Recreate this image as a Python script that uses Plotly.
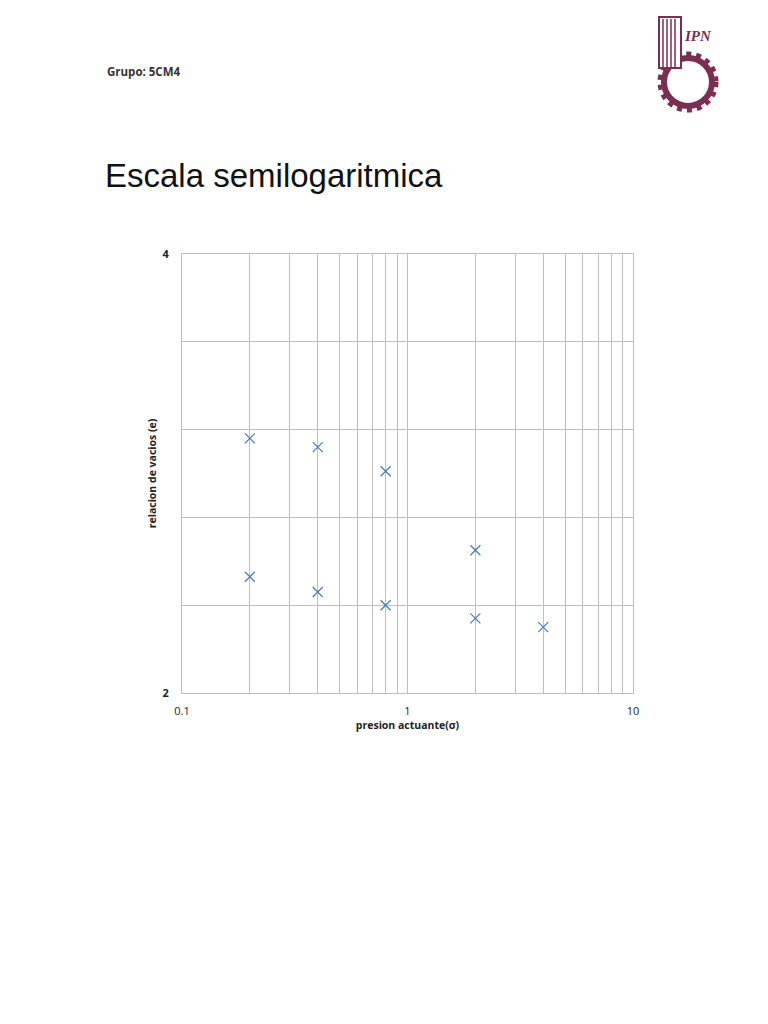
import plotly.graph_objects as go

# ---- data ----
presion = [0.2, 0.4, 0.8, 2, 0.2, 0.4, 0.8, 2, 4]
relacion_vacios = [3.16, 3.12, 3.01, 2.65, 2.53, 2.46, 2.40, 2.34, 2.30]

x_tick_vals = [0.1, 0.2, 0.3, 0.4, 0.5, 0.6, 0.7, 0.8, 0.9,
               1, 2, 3, 4, 5, 6, 7, 8, 9, 10]
x_tick_text = ["0.1", "", "", "", "", "", "", "", "",
               "1", "", "", "", "", "", "", "", "", "10"]
y_tick_vals = [2, 2.4, 2.8, 3.2, 3.6, 4]
y_tick_text = ["<b>2</b>", "", "", "", "", "<b>4</b>"]

OFF = 8  # page body offset
W, H = 752, 1008
L, T = 182 - OFF, 254 - OFF
R = W + OFF - 633
B = H + OFF - 693
PW, PH = W - L - R, H - T - B


def px(x):
    return (x - OFF - L) / PW


def py(y):
    return (H - B - (y - OFF)) / PH


MAROON = "#7b2d52"
GRID = "#bfbfbf"

fig = go.Figure()
fig.add_trace(go.Scatter(
    x=presion, y=relacion_vacios, mode="markers",
    marker=dict(symbol="x-thin", size=10, line=dict(color="#4a7ebb", width=1.3)),
    showlegend=False, hoverinfo="x+y",
))

fig.update_layout(
    width=W, height=H,
    margin=dict(l=L, r=R, t=T, b=B),
    paper_bgcolor="white", plot_bgcolor="white",
    font=dict(family="Open Sans", color="#222222"),
    xaxis=dict(
        type="log", range=[-1, 1],
        tickmode="array", tickvals=x_tick_vals, ticktext=x_tick_text,
        showgrid=True, gridcolor=GRID, gridwidth=1,
        showline=True, linecolor=GRID, mirror=True, zeroline=False,
        ticks="", ticklabelstandoff=8,
        tickfont=dict(size=11, family="Open Sans", color="#222"),
        title=dict(text="<b>presion actuante(σ)</b>", font=dict(size=10.5), standoff=1),
    ),
    yaxis=dict(
        range=[2, 4],
        tickmode="array", tickvals=y_tick_vals, ticktext=y_tick_text,
        showgrid=True, gridcolor=GRID, gridwidth=1,
        showline=True, linecolor=GRID, mirror=True, zeroline=False,
        ticks="", ticklabelstandoff=10,
        tickfont=dict(size=11, family="Open Sans", color="#222"),
        title=dict(text="<b>relacion de vacios (e)</b>", font=dict(size=10.5), standoff=3),
    ),
)

# header texts
fig.add_annotation(xref="paper", yref="paper", x=px(105), y=py(71),
                   xanchor="left", yanchor="middle", showarrow=False,
                   text="<b>Grupo: 5CM4</b>",
                   font=dict(size=11.5, family="Open Sans", color="#333"))
fig.add_annotation(xref="paper", yref="paper", x=px(103), y=py(175),
                   xanchor="left", yanchor="middle", showarrow=False,
                   text="Escala semilogaritmica",
                   font=dict(size=33, family="Liberation Sans", color="#111"))

# rough logo approximation (building + gear + IPN)
cx, cy, r = 688, 82, 24
fig.add_shape(type="circle", xref="paper", yref="paper",
              x0=px(cx - r - 4), x1=px(cx + r + 4), y0=py(cy + r + 4), y1=py(cy - r - 4),
              line=dict(color=MAROON, width=5, dash="dot"))
fig.add_shape(type="circle", xref="paper", yref="paper",
              x0=px(cx - r), x1=px(cx + r), y0=py(cy + r), y1=py(cy - r),
              line=dict(color=MAROON, width=6))
fig.add_shape(type="rect", xref="paper", yref="paper",
              x0=px(659), x1=px(681), y0=py(68), y1=py(17),
              line=dict(color=MAROON, width=2), fillcolor="white")
for bx in [663, 667, 671, 675]:
    fig.add_shape(type="line", xref="paper", yref="paper",
                  x0=px(bx), x1=px(bx), y0=py(68), y1=py(19),
                  line=dict(color=MAROON, width=1.5))
fig.add_annotation(xref="paper", yref="paper", x=px(698), y=py(36),
                   xanchor="center", yanchor="middle", showarrow=False,
                   text="<b><i>IPN</i></b>",
                   font=dict(size=15, family="Liberation Serif", color=MAROON))

fig.write_html("out.html")
